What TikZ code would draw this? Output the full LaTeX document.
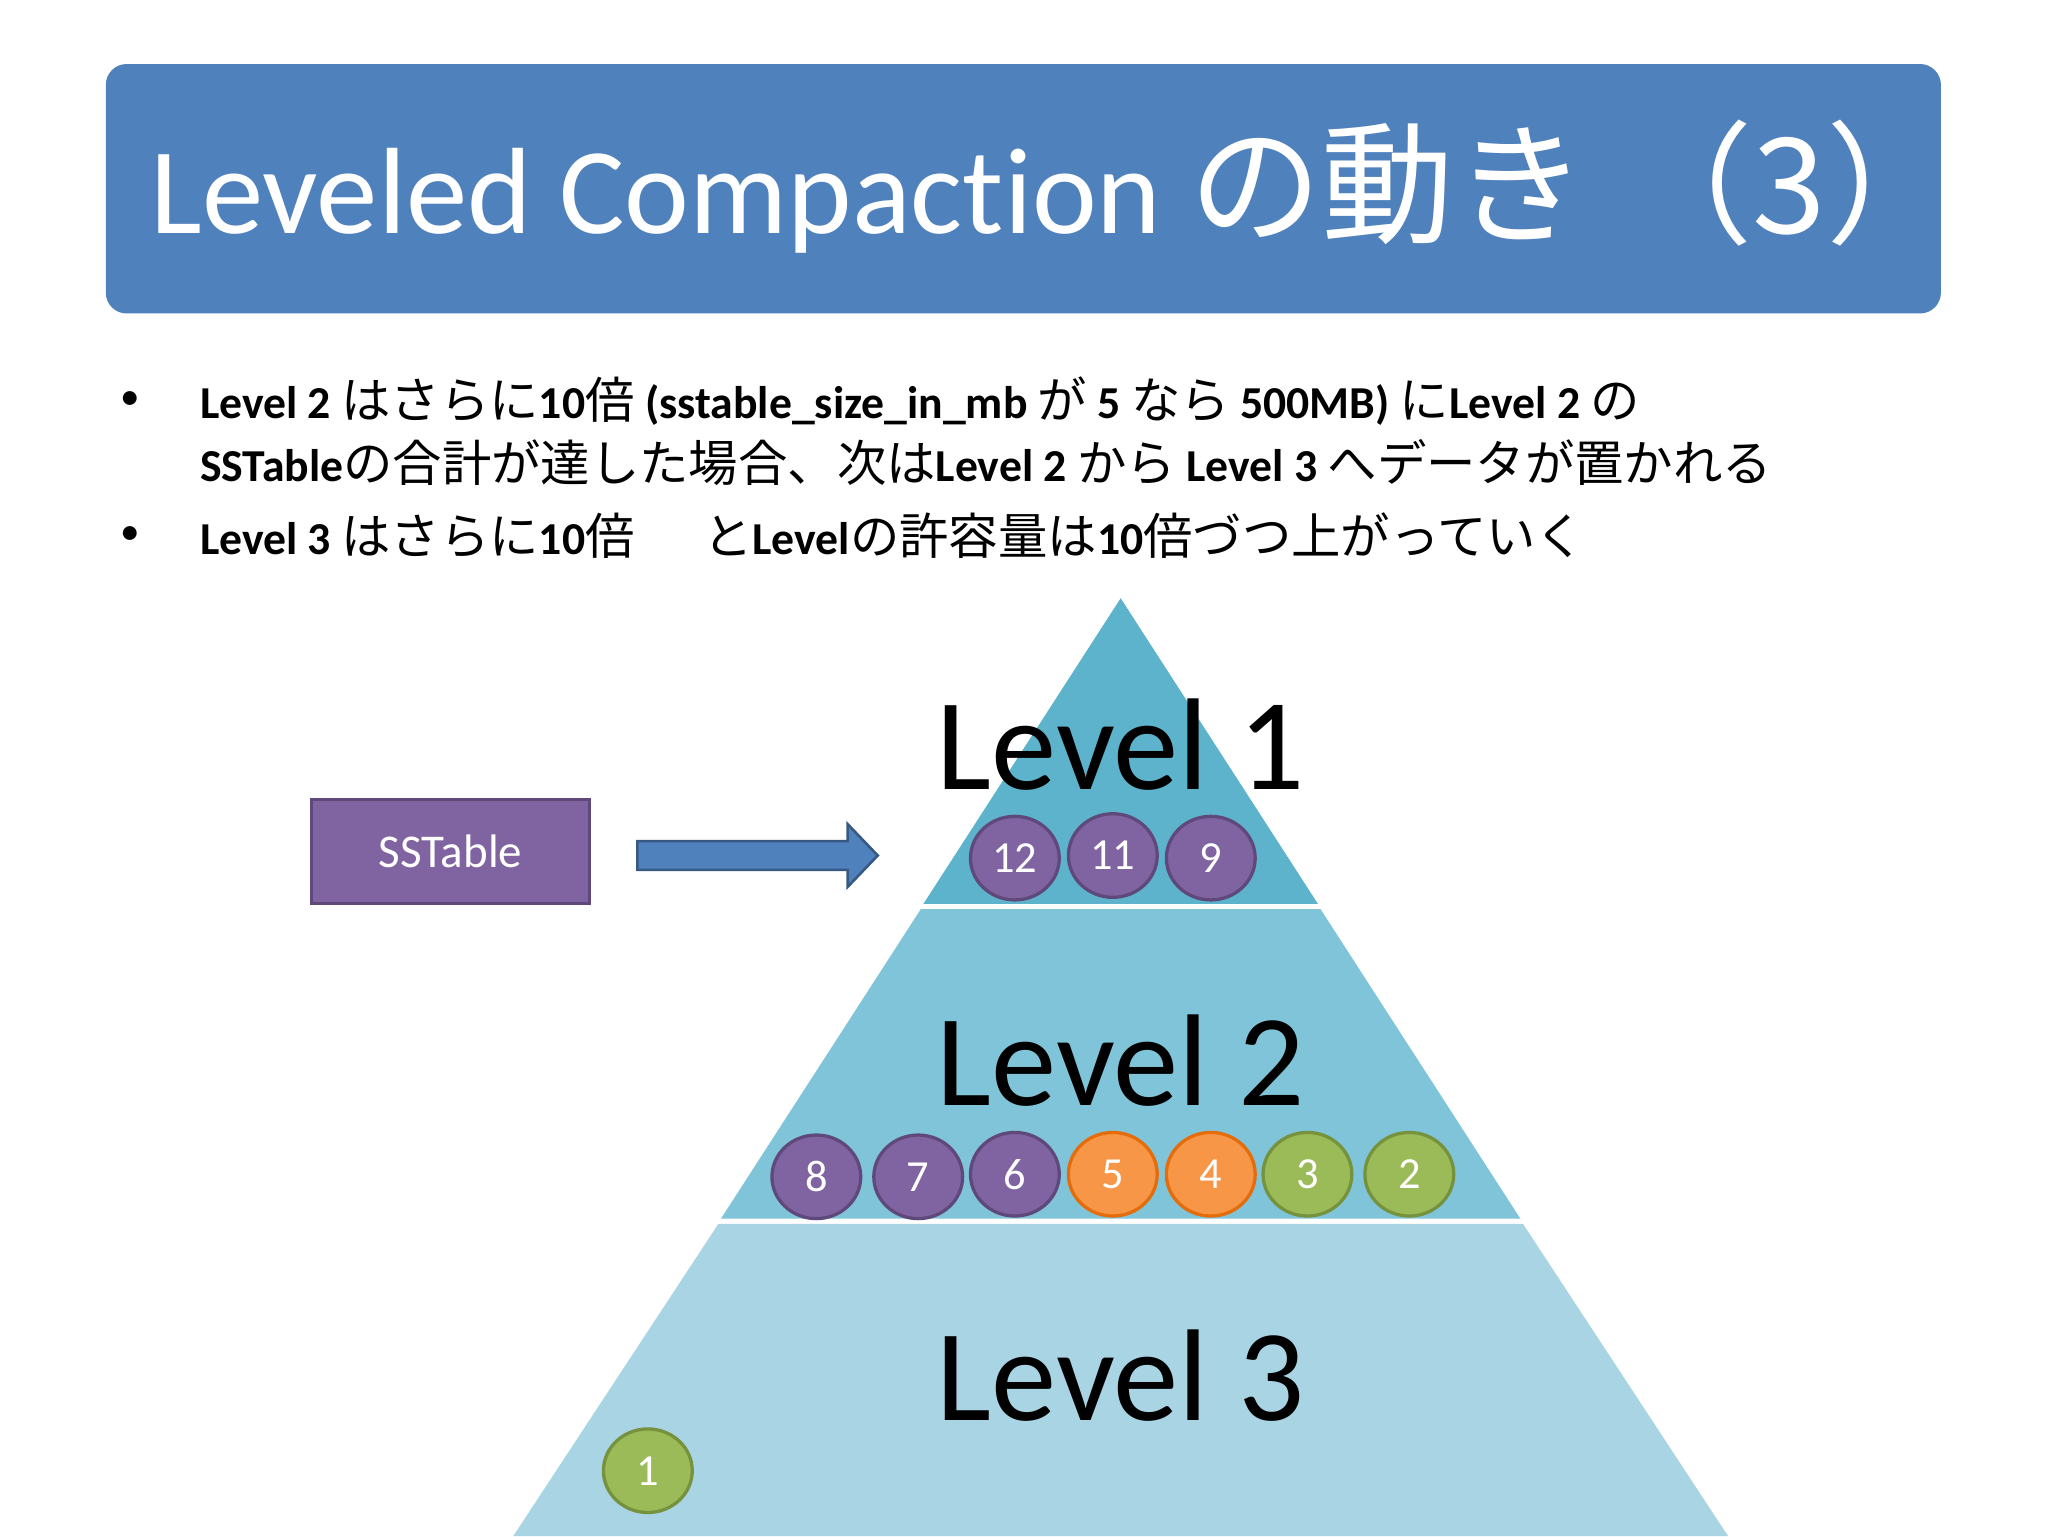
\documentclass[tikz,border=0pt]{standalone}
\usepackage{fontspec}
\setmainfont{Carlito}[Ligatures={NoCommon}]
\newfontfamily\jp{Noto Sans CJK JP}[Scale=1.08]
\newcommand{\J}[1]{{\jp #1}}
\definecolor{titleblue}{HTML}{4F81BD}
\definecolor{lvA}{HTML}{5DB3CC}
\definecolor{lvB}{HTML}{80C4D9}
\definecolor{lvC}{HTML}{A8D4E4}
\definecolor{purp}{HTML}{8064A2}
\definecolor{purpd}{HTML}{5F497A}
\definecolor{orng}{HTML}{F79646}
\definecolor{orngd}{HTML}{E46C0A}
\definecolor{grn}{HTML}{9BBB59}
\definecolor{grnd}{HTML}{76923C}
\tikzset{
 ball/.style={ellipse,minimum width=68pt,minimum height=64pt,inner sep=0pt,line width=2.5pt,text=white,font=\fontsize{34}{34}\selectfont},
 pb/.style={ball,fill=purp,draw=purpd},
 ob/.style={ball,fill=orng,draw=orngd},
 gb/.style={ball,fill=grn,draw=grnd},
 lvl/.style={font=\fontsize{100}{100}\selectfont,text=black},
 bul/.style={anchor=west,font=\fontsize{35}{35}\selectfont\bfseries,inner sep=0pt},
}
\usetikzlibrary{shapes.geometric}
\begin{document}
\begin{tikzpicture}[x=1pt,y=-1pt]
\useasboundingbox (0,0) rectangle (1568,1176);
\fill[white] (0,0) rectangle (1568,1176);
\fill[titleblue,rounded corners=16pt] (81,49) rectangle (1486,240);
\node[anchor=west,text=white,font=\fontsize{94}{94}\selectfont,inner sep=0pt] (title) at (115,143) {Leveled Compaction \J{の動き\hspace{0.25em}（3）}};
\node[font=\fontsize{30}{30}\selectfont] (b1) at (100,307) {•};
\node[font=\fontsize{30}{30}\selectfont] (b2) at (100,410) {•};
\node[bul] (t1) at (153,307) {Level 2 \J{\mdseries はさらに}10\J{\mdseries 倍} (sstable\_size\_in\_mb \J{\mdseries が} 5 \J{\mdseries なら} 500MB) \J{\mdseries に}Level 2 \J{\mdseries の}};
\node[bul] (t2) at (153,354) {SSTable\J{\mdseries の合計が達した場合、次は}Level 2 \J{\mdseries から} Level 3 \J{\mdseries へデータが置かれる}};
\node[bul] (t3) at (153,410) {Level 3 \J{\mdseries はさらに}10\J{\mdseries 倍}\hspace{1.5em}\J{\mdseries と}Level\J{\mdseries の許容量は}10\J{\mdseries 倍づつ上がっていく}};
% pyramid
\fill[lvA] (858,458) -- (1009,692) -- (707,692) -- cycle;
\fill[lvB] (705,696) -- (1011,696) -- (1164,933) -- (552,933) -- cycle;
\fill[lvC] (550,937) -- (1166,937) -- (1323,1176) -- (393,1176) -- cycle;
\node[lvl] (L1) at (858,570) {Level 1};
\node[lvl] (L2) at (858,812) {Level 2};
\node[lvl] (L3) at (858,1053) {Level 3};
\node[pb] (c12) at (777,657) {12};
\node[pb] (c11) at (852,655) {11};
\node[pb] (c9) at (927,657) {9};
\node[pb] (c8) at (625,901) {8};
\node[pb] (c7) at (703,901) {7};
\node[pb] (c6) at (777,899) {6};
\node[ob] (c5) at (852,899) {5};
\node[ob] (c4) at (927,899) {4};
\node[gb] (c3) at (1001,899) {3};
\node[gb] (c2) at (1079,899) {2};
\node[gb] (c1) at (496,1126) {1};
\node[fill=purp,draw=purpd,line width=2.5pt,minimum width=213pt,minimum height=80pt,text=white,font=\fontsize{36}{36}\selectfont] (ss) at (345,652) {SSTable};
\coordinate (arrs) at (488,655);
\filldraw[fill=titleblue,draw=titleblue!70!black,line width=2pt]
  (arrs) ++(0,-11) -- ++(161,0) -- ++(0,-13) -- ++(23,24) -- ++(-23,24) -- ++(0,-13) -- ++(-161,0) -- cycle;
\end{tikzpicture}
\end{document}
